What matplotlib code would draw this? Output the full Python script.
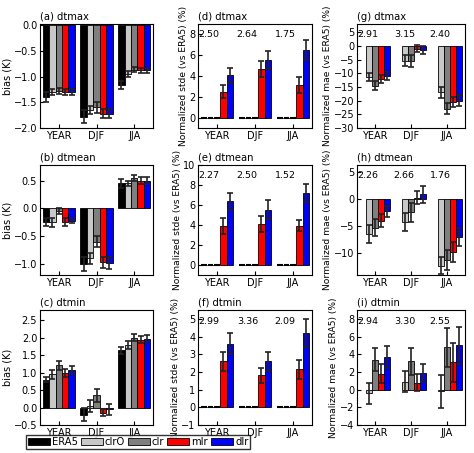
import matplotlib
matplotlib.use("Agg")
import matplotlib.pyplot as plt
import numpy as np

seasons = ["YEAR", "DJF", "JJA"]
models = ["ERA5", "clrO", "clr", "mlr", "dlr"]
colors = ["black", "#c8c8c8", "#7f7f7f", "#ff0000", "#0000ff"]
nan = np.nan

# bias (K): rows = models, cols = seasons
bias_dtmax = [[-1.40, -1.78, -1.17], [-1.30, -1.65, -0.95], [-1.28, -1.60, -0.87],
              [-1.30, -1.72, -0.88], [-1.30, -1.72, -0.88]]
bias_dtmax_err = [[0.10, 0.12, 0.08], [0.06, 0.08, 0.06], [0.05, 0.10, 0.05],
                  [0.06, 0.09, 0.05], [0.05, 0.09, 0.05]]
bias_dtmean = [[-0.25, -1.00, 0.45], [-0.25, -0.90, 0.45], [-0.05, -0.60, 0.55],
               [-0.25, -0.97, 0.50], [-0.22, -0.98, 0.50]]
bias_dtmean_err = [[0.07, 0.12, 0.08], [0.08, 0.10, 0.05], [0.05, 0.10, 0.05],
                   [0.07, 0.10, 0.06], [0.05, 0.11, 0.06]]
bias_dtmin = [[0.80, -0.20, 1.65], [0.95, 0.05, 1.80], [1.22, 0.35, 2.00],
              [1.00, -0.15, 1.95], [1.07, -0.05, 1.98]]
bias_dtmin_err = [[0.08, 0.18, 0.10], [0.12, 0.18, 0.12], [0.13, 0.18, 0.10],
                  [0.12, 0.10, 0.10], [0.12, 0.15, 0.10]]

# normalized stde (%)
stde_dtmax = [[0, 0, 0], [0, 0, 0], [0, 0, 0], [2.50, 4.70, 3.15], [4.05, 5.55, 6.50]]
stde_dtmax_err = [[0, 0, 0], [0, 0, 0], [0, 0, 0], [0.65, 0.75, 0.75], [0.70, 0.90, 0.95]]
stde_dtmean = [[0, 0, 0], [0, 0, 0], [0, 0, 0], [3.90, 4.10, 3.95], [6.40, 5.55, 7.20]]
stde_dtmean_err = [[0, 0, 0], [0, 0, 0], [0, 0, 0], [0.80, 0.80, 0.55], [0.85, 0.95, 0.90]]
stde_dtmin = [[0, 0, 0], [0, 0, 0], [0, 0, 0], [2.60, 1.80, 2.15], [3.60, 2.60, 4.20]]
stde_dtmin_err = [[0, 0, 0], [0, 0, 0], [0, 0, 0], [0.55, 0.45, 0.55], [0.60, 0.55, 0.80]]

# normalized mae (%)
mae_dtmax = [[nan, nan, nan], [-11.5, -5.5, -17.0], [-14.5, -5.5, -23.0],
             [-12.0, -1.0, -20.5], [-11.0, -1.5, -20.0]]
mae_dtmax_err = [[0, 0, 0], [1.5, 2.0, 2.0], [1.7, 2.2, 2.0], [1.5, 1.2, 2.0], [1.5, 1.5, 2.0]]
mae_dtmean = [[nan, nan, nan], [-6.5, -4.3, -12.3], [-5.3, -2.5, -11.2],
              [-4.0, 0.2, -9.8], [-2.3, 0.8, -7.0]]
mae_dtmean_err = [[0, 0, 0], [1.6, 1.6, 1.6], [1.5, 1.7, 1.8], [1.2, 1.2, 1.8], [1.0, 1.5, 1.7]]
mae_dtmin = [[nan, nan, nan], [-0.4, 0.9, -0.2], [3.4, 3.2, 4.8],
             [1.8, 0.8, 3.1], [3.7, 1.9, 5.0]]
mae_dtmin_err = [[0, 0, 0], [1.2, 1.2, 1.9], [1.3, 1.5, 2.2], [1.1, 1.0, 2.2], [1.2, 1.0, 2.1]]

ref_stde = [["2.50", "2.64", "1.75"], ["2.27", "2.50", "1.52"], ["2.99", "3.36", "2.09"]]
ref_mae = [["2.91", "3.15", "2.40"], ["2.26", "2.66", "1.76"], ["2.94", "3.30", "2.55"]]

plt.rcParams["font.size"] = 7
fig = plt.figure(figsize=(4.74, 4.53), dpi=100)
W, H = 474.0, 453.0
col_x = [(40, 153), (198, 312), (357, 465)]
row_y = [(24, 128), (165, 275), (310, 425)]

panels = [
    [(bias_dtmax, bias_dtmax_err, "(a) dtmax", (-2.0, 0.02), None),
     (stde_dtmax, stde_dtmax_err, "(d) dtmax", (-1, 9), 0),
     (mae_dtmax, mae_dtmax_err, "(g) dtmax", (-30, 8), 0)],
    [(bias_dtmean, bias_dtmean_err, "(b) dtmean", (-1.2, 0.78), None),
     (stde_dtmean, stde_dtmean_err, "(e) dtmean", (-1, 10), 1),
     (mae_dtmean, mae_dtmean_err, "(h) dtmean", (-14, 6.2), 1)],
    [(bias_dtmin, bias_dtmin_err, "(c) dtmin", (-0.5, 2.8), None),
     (stde_dtmin, stde_dtmin_err, "(f) dtmin", (-1, 5.5), 2),
     (mae_dtmin, mae_dtmin_err, "(i) dtmin", (-4, 9), 2)],
]
ylabels = ["bias (K)", "Normalized stde (vs ERA5) (%)", "Normalized mae (vs ERA5) (%)"]
yticks = [
    [np.arange(-2.0, 0.01, 0.5), np.arange(0, 9, 2), np.arange(-30, 6, 5)],
    [np.arange(-1.0, 0.51, 0.5), np.arange(0, 11, 2), np.arange(-10, 6, 5)],
    [np.arange(-0.5, 2.51, 0.5), np.arange(-1, 6, 1), np.arange(-4, 9, 2)],
]

x = np.arange(len(seasons))
bw = 0.17
handles = None
for r in range(3):
    for c in range(3):
        vals, errs, title, ylim, txt = panels[r][c]
        x0, x1 = col_x[c]
        y0, y1 = row_y[r]
        ax = fig.add_axes([x0 / W, 1 - y1 / H, (x1 - x0) / W, (y1 - y0) / H])
        bars = []
        for m in range(len(models)):
            pos = x + (m - 2) * bw
            v = np.array(vals[m], dtype=float)
            b = ax.bar(pos, v, bw, color=colors[m], edgecolor="black", linewidth=0.6,
                       label=models[m])
            bars.append(b)
            zero = v == 0
            if zero.any():
                ax.hlines(v[zero], pos[zero] - bw * 0.4, pos[zero] + bw * 0.4,
                          colors="black", linewidth=1.5, zorder=3)
            e = np.array(errs[m], dtype=float)
            ok = ~np.isnan(v) & (e > 0)
            if ok.any():
                ax.errorbar(pos[ok], v[ok], yerr=e[ok], fmt="none", ecolor="#222222",
                            elinewidth=1.2, capsize=2.5, capthick=1.2)
        if handles is None:
            handles = bars
        ax.set_xlim(-0.5, 2.5)
        ax.set_ylim(*ylim)
        ax.set_yticks(yticks[r][c])
        ax.set_xticks(x)
        ax.set_xticklabels(seasons)
        ax.tick_params(direction="in", length=3, pad=2)
        ax.set_ylabel(ylabels[c], labelpad=1, fontsize=6.6 if c else 7)
        ax.set_title(title, loc="left", fontsize=7.2, pad=3)
        if txt is not None:
            labels = ref_stde[txt] if c == 1 else ref_mae[txt]
            ty = ylim[1] - (ylim[1] - ylim[0]) * 0.14
            for k in range(3):
                ax.text(x[k] - 0.48, ty, labels[k], fontsize=6.8, va="bottom")

fig.legend(handles, models, loc="center", ncol=5, bbox_to_anchor=(138 / W, 1 - 442 / H),
           frameon=True, fancybox=False, edgecolor="black", handlelength=2.2,
           handletextpad=0.2, columnspacing=0.3, borderpad=0.2, fontsize=7.2)

fig.savefig("out.png", dpi=100)
